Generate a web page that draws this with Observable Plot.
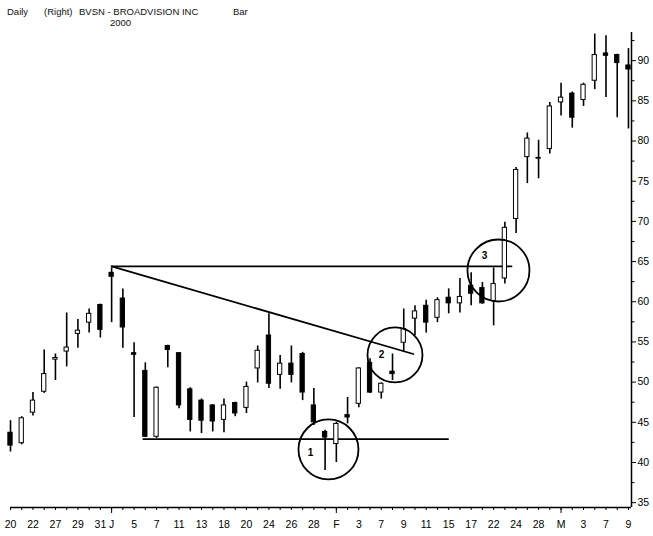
<!DOCTYPE html>
<html>
<head>
<meta charset="utf-8">
<script src="https://cdn.jsdelivr.net/npm/d3@7"></script>
<script src="https://cdn.jsdelivr.net/npm/@observablehq/plot@0.6"></script>
<style>
  body { margin: 0; background: #fff; }
  #wrap { position: relative; width: 653px; height: 536px; font-family: "Liberation Sans", Arial, sans-serif; }
  #chart { position: absolute; left: 0; top: 0; }
  .hd { position: absolute; font-size: 9.5px; color: #111; white-space: nowrap; line-height: 1; z-index: 2; }
</style>
</head>
<body>
<div id="wrap">
  <div id="chart"></div>
  <div class="hd" style="left:7px;top:7px">Daily</div>
  <div class="hd" style="left:44px;top:7px">(Right)</div>
  <div class="hd" style="left:79px;top:7px">BVSN - BROADVISION INC</div>
  <div class="hd" style="left:233px;top:7px">Bar</div>
  <div class="hd" style="left:110px;top:18px">2000</div>
</div>
<script>
// Trading days, Dec 20 1999 .. Mar 9 2000 (index = trading-day position)
const dayIndex = d3.range(56);
const opens  = [43.7,42.4,46.2,48.8,52.8,53.8,56.0,57.4,59.6,63.6,60.4,53.6,51.4,43.2,54.5,53.6,49.1,47.7,47.1,45.3,47.4,46.8,51.7,55.8,50.9,52.3,53.5,47.1,43.8,42.3,45.9,47.3,52.4,48.7,51.3,54.9,57.9,59.5,58.0,60.5,59.8,62.0,61.7,60.1,62.9,70.3,78.0,77.8,79.0,84.8,85.9,85.1,87.5,90.9,90.7,89.4];
const highs  = [45.2,45.7,48.7,54.0,53.5,58.6,57.8,59.1,59.7,64.2,61.6,54.9,52.4,49.4,54.6,53.7,49.3,47.9,47.2,47.9,47.5,50.0,54.5,58.5,53.3,54.5,53.7,49.2,44.0,45.0,48.1,51.8,52.9,49.9,53.5,59.1,59.5,60.2,60.5,61.6,62.9,63.6,62.4,64.2,69.9,76.7,81.0,80.1,84.8,87.2,86.1,87.2,93.3,93.1,90.8,91.5];
const lows   = [41.3,42.2,45.8,48.6,50.2,51.9,54.2,56.1,55.5,57.4,54.2,45.6,43.1,43.0,51.8,46.7,43.8,43.6,43.8,43.7,45.7,46.1,49.9,49.2,49.1,49.9,47.7,44.6,39.0,40.0,44.8,46.8,48.6,47.9,50.2,53.7,55.8,56.1,57.4,58.5,58.6,59.5,59.7,57.0,62.2,68.5,74.7,75.3,78.4,83.1,81.6,84.3,86.4,85.4,82.9,81.5];
const closes = [42.1,45.5,47.7,51.0,53.0,54.3,56.4,58.5,56.5,63.1,56.8,53.4,43.2,49.3,54.0,47.1,45.3,45.2,45.1,47.1,46.1,49.4,53.9,49.8,52.3,50.9,48.7,45.0,43.1,44.8,45.6,51.7,48.7,49.8,51.0,56.6,58.8,57.4,60.2,59.8,60.6,61.0,59.8,62.2,69.2,76.4,80.3,77.9,84.3,85.4,82.9,87.0,90.7,90.6,89.7,88.9];

// Axis tick labels
const xLabelIdx  = [0,2,4,6,8,9,11,13,15,17,19,21,23,25,27,29,31,33,35,37,39,41,43,45,47,49,51,53,55];
const xLabelText = ["20","22","27","29","31","J","5","7","11","13","18","20","24","26","28","F","3","7","9","11","15","17","22","24","28","M","3","7","9"];
const monthStartIdx = [9,29,49];
const yLabels = [35,40,45,50,55,60,65,70,75,80,85,90];
const yMinor  = [37.5,42.5,47.5,52.5,57.5,62.5,67.5,72.5,77.5,82.5,87.5,92.5];

// Annotations (chart-data coordinates: trading-day index, price)
const resistance = {from: 9, to: 44.7, price: 64.4};
const support    = {from: 11.8, to: 39.05, price: 42.92};
const trendX = [9, 35.85];
const trendY = [64.4, 53.5];
const circleX = [28.30, 34.22, 43.43];
const circleY = [41.62, 53.38, 63.89];
const circleLabel = ["1","2","3"];
const labelX = [26.7, 33.02, 42.19];
const labelY = [41.25, 53.44, 65.76];

const candles = dayIndex.map((i, k) => ({i, o: opens[k], h: highs[k], l: lows[k], c: closes[k]}));
const trend = trendX.map((x, k) => ({x, y: trendY[k]}));
const circles = circleX.map((x, k) => ({x, y: circleY[k]}));
const labels = labelX.map((x, k) => ({x, y: labelY[k], t: circleLabel[k]}));
const lab = new Map(xLabelIdx.map((i, k) => [i, xLabelText[k]]));

const X0 = -0.89, X1 = 55.27, Y0 = 34.4, Y1 = 94;

const chart = Plot.plot({
  width: 653,
  height: 536,
  marginTop: 28,
  marginBottom: 29,
  marginLeft: 0,
  marginRight: 22,
  x: {domain: [X0, X1]},
  y: {domain: [Y0, Y1]},
  style: {fontFamily: "'Liberation Sans', Arial, sans-serif", fontSize: "10px", color: "#000", background: "transparent"},
  marks: [
    // axes
    Plot.ruleX([X1], {y1: Y0, y2: 93.5, stroke: "#000", strokeWidth: 1.5}),
    Plot.ruleY([Y0], {x1: 0, x2: X1, stroke: "#000", strokeWidth: 1.5}),
    Plot.axisY({anchor: "right", ticks: yLabels, tickSize: 4, tickPadding: 2, fontSize: 10.5}),
    Plot.axisY({anchor: "right", ticks: yMinor, tickSize: 2.5, tickFormat: () => ""}),
    Plot.axisX({anchor: "bottom", ticks: dayIndex, tickSize: 3, tickFormat: () => ""}),
    Plot.axisX({anchor: "bottom", ticks: monthStartIdx, tickSize: 6, tickFormat: () => ""}),
    Plot.axisX({anchor: "bottom", ticks: xLabelIdx, tickSize: 0, tickPadding: 13, fontSize: 10.5, tickFormat: i => lab.get(i)}),
    // annotation lines
    Plot.ruleY([resistance], {y: "price", x1: "from", x2: "to", stroke: "#000", strokeWidth: 1.8}),
    Plot.ruleY([support], {y: "price", x1: "from", x2: "to", stroke: "#000", strokeWidth: 1.8}),
    Plot.line(trend, {x: "x", y: "y", stroke: "#000", strokeWidth: 1.8}),
    // candles
    Plot.ruleX(candles, {x: "i", y1: "l", y2: "h", stroke: "#000", strokeWidth: 1.6}),
    Plot.rect(candles.filter(d => d.c >= d.o), {x1: d => d.i - 0.19, x2: d => d.i + 0.19, y1: "o", y2: "c", fill: "#fff", stroke: "#000", strokeWidth: 1}),
    Plot.rect(candles.filter(d => d.c < d.o), {x1: d => d.i - 0.19, x2: d => d.i + 0.19, y1: "o", y2: "c", fill: "#000", stroke: "#000", strokeWidth: 1}),
    // circles and numbers
    Plot.dot([circles[0]], {x: "x", y: "y", r: 30, stroke: "#000", strokeWidth: 1.8, fill: "none"}),
    Plot.dot([circles[1]], {x: "x", y: "y", r: 27.5, stroke: "#000", strokeWidth: 1.8, fill: "none"}),
    Plot.dot([circles[2]], {x: "x", y: "y", r: 31, stroke: "#000", strokeWidth: 1.8, fill: "none"}),
    Plot.text(labels, {x: "x", y: "y", text: "t", fontSize: 10, fontWeight: "bold", fill: "#000"})
  ]
});
document.getElementById("chart").appendChild(chart);
</script>
</body>
</html>
